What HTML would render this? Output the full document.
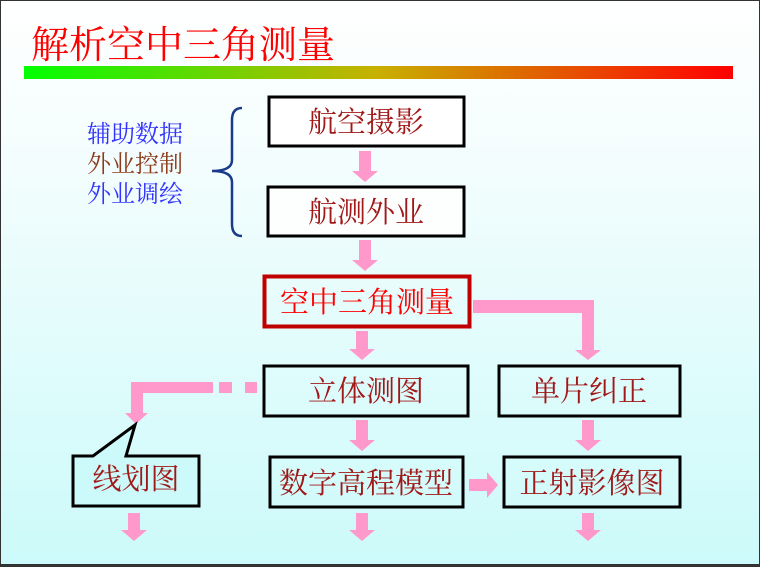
<!DOCTYPE html>
<html><head><meta charset="utf-8"><style>
html,body{margin:0;padding:0;}
body{width:760px;height:567px;overflow:hidden;}
svg text{font-family:"Liberation Serif","Noto Serif CJK SC",serif;}
</style></head><body>
<svg width="760" height="567" viewBox="0 0 760 567" xmlns="http://www.w3.org/2000/svg">
<defs>
<linearGradient id="bg" x1="0" y1="0" x2="0" y2="1">
<stop offset="0" stop-color="#ffffff"/><stop offset="0.3" stop-color="#f3fdfd"/><stop offset="1" stop-color="#ccfafa"/>
</linearGradient>
<linearGradient id="bar" x1="0" y1="0" x2="1" y2="0">
<stop offset="0" stop-color="#00ff00"/><stop offset="0.5" stop-color="#c8b000"/><stop offset="1" stop-color="#ff0000"/>
</linearGradient>
</defs>
<rect x="0" y="0" width="760" height="567" fill="url(#bg)"/>
<rect x="0.5" y="0.5" width="759" height="566" fill="none" stroke="#333" stroke-width="1"/>
<rect x="0" y="564" width="760" height="3" fill="#333"/>
<text x="31" y="58" font-size="38" fill="#ff0000">解析空中三角测量</text>
<rect x="24" y="66" width="709" height="13" fill="url(#bar)"/>

<g font-size="24">
<text x="87" y="142" fill="#3333ff">辅助数据</text>
<text x="87" y="172" fill="#8b3a1a">外业控制</text>
<text x="87" y="202" fill="#3333ff">外业调绘</text>
</g>
<path d="M242,108 Q232,108 232,120 L232,160 Q232,171 212,171 Q232,171 232,182 L232,224 Q232,236 242,236" fill="none" stroke="#1a3a8a" stroke-width="2.5"/>

<g fill="#ff99cc">
<polygon points="359,151 371,151 371,171 378,171 365,182 352,171 359,171"/>
<polygon points="359,240 371,240 371,260 378,260 365,271 352,260 359,260"/>
<polygon points="356,331 368,331 368,349 375,349 362,360 349,349 356,349"/>
<polygon points="473,300 594,300 594,350 601,350 588,360 575,350 582,350 582,313 473,313"/>
<polygon points="356,420 368,420 368,440 375,440 362,451 349,440 356,440"/>
<polygon points="582,420 594,420 594,440 601,440 588,451 575,440 582,440"/>
<polygon points="469,479 487,479 487,472 498,485 487,498 487,491 469,491"/>
<polygon points="128,513 140,513 140,530 147,530 134,541 121,530 128,530"/>
<polygon points="356,513 368,513 368,530 375,530 362,541 349,530 356,530"/>
<polygon points="582,513 594,513 594,530 601,530 588,541 575,530 582,530"/>
<rect x="219" y="382" width="13" height="11"/>
<rect x="245" y="382" width="12" height="11"/>
<polygon points="131,382 213,382 213,393 143,393 143,413 148,413 136,424 125,413 131,413"/>
</g>

<g stroke="#000" stroke-width="3">
<rect x="269" y="97" width="195" height="49" fill="#fff"/>
<rect x="268" y="187" width="196" height="49" fill="#fdffff"/>
<rect x="264" y="366" width="204" height="50" fill="none"/>
<rect x="499" y="366" width="181" height="50" fill="none"/>
<rect x="270" y="457" width="193" height="50" fill="none"/>
<rect x="504" y="457" width="176" height="50" fill="none"/>
<path d="M93,456 L73,456 L73,506 L199,506 L199,456 L126,456 L135,425 Z" fill="#ccfafa" stroke-linejoin="miter"/>
</g>
<rect x="264.5" y="276.5" width="205" height="50" fill="none" stroke="#c00000" stroke-width="4"/>

<g font-size="29" fill="#a01818" text-anchor="middle">
<text x="366" y="132">航空摄影</text>
<text x="366" y="222">航测外业</text>
<text x="366" y="401">立体测图</text>
<text x="589" y="401">单片纠正</text>
<text x="366" y="493">数字高程模型</text>
<text x="592" y="493">正射影像图</text>
<text x="136" y="489">线划图</text>
<text x="367" y="312" fill="#ff0000">空中三角测量</text>
</g>
</svg>
</body></html>
